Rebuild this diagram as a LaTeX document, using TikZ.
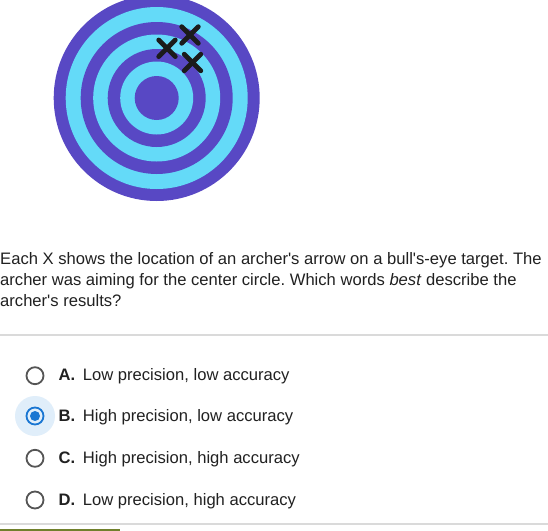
\documentclass[tikz,border=0pt]{standalone}
\usepackage{fontspec}
\setmainfont{Liberation Sans}[Ligatures=TeXOff]
\frenchspacing
\definecolor{tpurple}{RGB}{88,72,196}
\definecolor{tcyan}{RGB}{100,218,248}
\definecolor{xmark}{RGB}{27,27,27}
\definecolor{txt}{RGB}{33,33,33}
\definecolor{sep}{RGB}{218,218,218}
\definecolor{rgray}{RGB}{85,85,85}
\definecolor{rblue}{RGB}{25,118,210}
\definecolor{halo}{RGB}{224,238,250}
\definecolor{olive}{RGB}{112,128,44}
\tikzset{
  body/.style={anchor=base west, inner sep=0pt, text=txt, font=\fontsize{16.6}{20}\selectfont},
  optletter/.style={anchor=base west, inner sep=0pt, text=txt, font=\fontsize{16.6}{20}\selectfont\bfseries},
  opttext/.style={anchor=base west, inner sep=0pt, text=txt, font=\fontsize{16.6}{20}\selectfont},
  radio/.style={circle, draw=rgray, line width=1.8pt, minimum size=17pt, inner sep=0pt},
  radiosel/.style={circle, draw=rblue, line width=1.8pt, minimum size=17pt, inner sep=0pt},
  xm/.style={draw=xmark, line width=4.8pt, line cap=round},
}
\begin{document}
\begin{tikzpicture}[x=1pt,y=-1pt]
\useasboundingbox (0,0) rectangle (548,530);
\fill[white] (0,0) rectangle (548,530);
% target
\coordinate (tc) at (156.7,98);
\fill[tpurple] (tc) circle (103pt);
\fill[tcyan] (tc) circle (91pt);
\fill[tpurple] (tc) circle (76pt);
\fill[tcyan] (tc) circle (63.5pt);
\fill[tpurple] (tc) circle (49pt);
\fill[tcyan] (tc) circle (36.5pt);
\fill[tpurple] (tc) circle (22pt);
% X marks
\foreach \cx/\cy in {190/35, 167/48.3, 192.5/62.5}{
  \draw[xm] (\cx-8.3,\cy-8.3) -- (\cx+8.3,\cy+8.3);
  \draw[xm] (\cx-8.3,\cy+8.3) -- (\cx+8.3,\cy-8.3);
}
% question
\node[body] (q1) at (0,264.5) {Each X shows the location of an archer's arrow on a bull's-eye target. The};
\node[body] (q2) at (0,285.5) {archer was aiming for the center circle. Which words \textit{best} describe the};
\node[body] (q3) at (0,306.5) {archer's results?};
% separators
\draw[sep, line width=1.5pt] (0,335) -- (548,335);
\draw[sep, line width=1.2pt] (0,524) -- (548,524);
\draw[olive, line width=2pt] (0,529.5) -- (120,529.5);
% options
\node[radio] (ra) at (35,375.7) {};
\fill[halo] (35,416) circle (20pt);
\node[radiosel] (rb) at (35,416) {};
\fill[rblue] (rb.center) circle (5pt);
\node[radio] (rc) at (35,458.3) {};
\node[radio] (rd) at (35,500) {};
\node[optletter] (la) at (58.5,380) {A.};
\node[opttext] (ta) at (82.7,380) {Low precision, low accuracy};
\node[optletter] (lb) at (58.5,421.7) {B.};
\node[opttext] (tb) at (82.7,421.7) {High precision, low accuracy};
\node[optletter] (lc) at (58.5,463.3) {C.};
\node[opttext] (tc2) at (82.7,463.3) {High precision, high accuracy};
\node[optletter] (ld) at (58.5,505.5) {D.};
\node[opttext] (td) at (82.7,505.5) {Low precision, high accuracy};
\end{tikzpicture}
\end{document}
